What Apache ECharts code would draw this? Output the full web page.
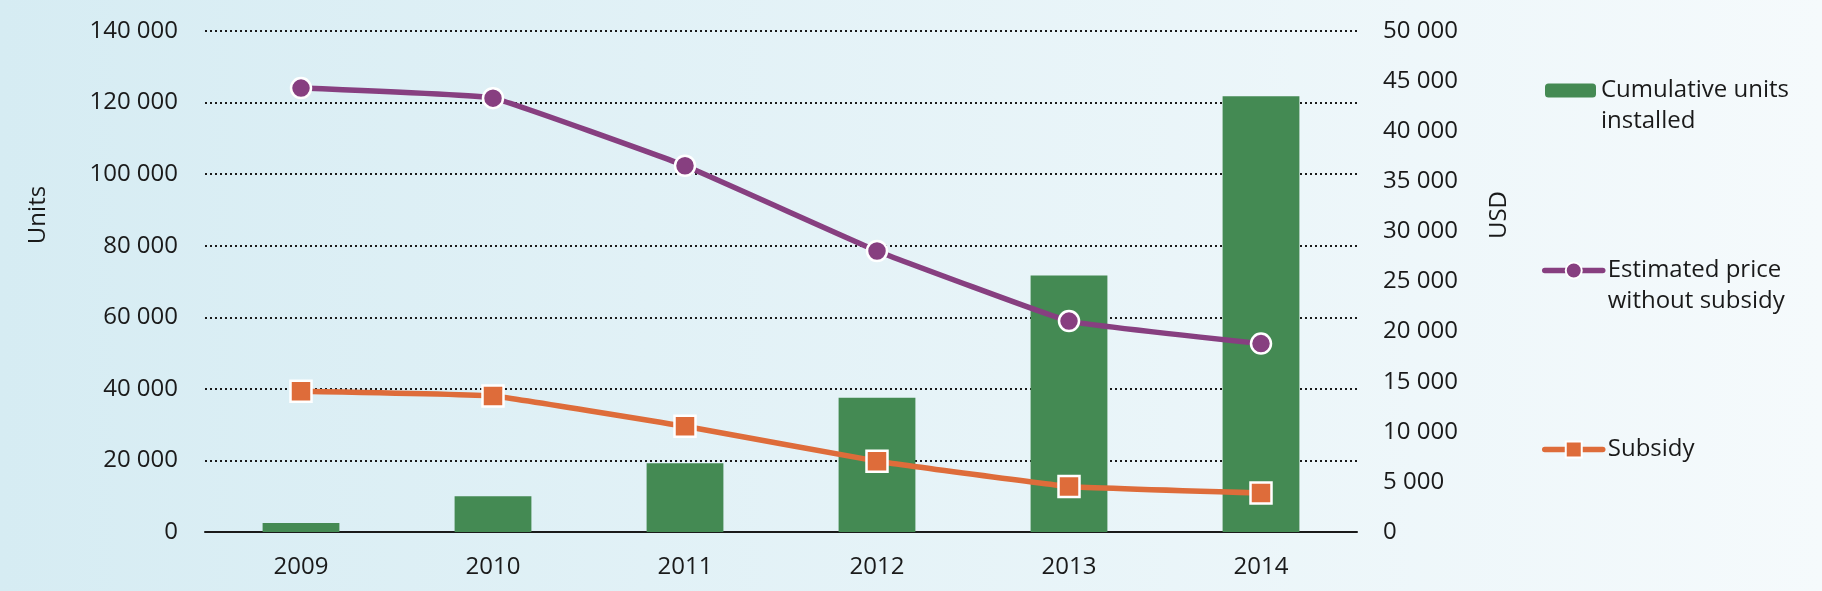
<!DOCTYPE html>
<html>
<head>
<meta charset="utf-8">
<script src="https://cdn.jsdelivr.net/npm/echarts@6/dist/echarts.min.js"></script>
<style>
html,body{margin:0;padding:0;}
#chart{width:1822px;height:591px;}
</style>
</head>
<body>
<div id="chart"></div>
<script>
const years = ['2009', '2010', '2011', '2012', '2013', '2014'];
const unitsInstalled = [2500, 10000, 19200, 37500, 71700, 121800];
const priceNoSubsidy = [44300, 43300, 36550, 28050, 21050, 18800];
const subsidy = [14050, 13580, 10550, 7070, 4550, 3900];
const leftTicks = {min: 0, max: 140000, interval: 20000};
const rightTicks = {min: 0, max: 50000, interval: 5000};
const seriesNames = ['Cumulative units installed', 'Estimated price without subsidy', 'Subsidy'];
const legendLabels = ['\nCumulative units\ninstalled', '\nEstimated price\nwithout subsidy', 'Subsidy'];

const FONT = 'Open Sans';
const fmt = v => String(v).replace(/\B(?=(\d{3})+(?!\d))/g, ' ');
const chart = echarts.init(document.getElementById('chart'), null, {renderer: 'canvas'});

const legendBase = {
  orient: 'vertical', left: 1542, padding: 0,
  textStyle: {fontFamily: FONT, fontSize: 24, color: '#1a1a1a', lineHeight: 31},
  formatter: name => legendLabels[seriesNames.indexOf(name)],
  lineStyle: {width: 5.5, cap: 'round'},
  selectedMode: false
};

chart.setOption({
  animation: false,
  backgroundColor: {
    type: 'linear', x: 0, y: 0, x2: 1, y2: 0,
    colorStops: [{offset: 0, color: '#d6ecf3'}, {offset: 1, color: '#f5fafc'}]
  },
  grid: {left: 205, right: 465, top: 31, bottom: 59},
  legend: [
    Object.assign({}, legendBase, {
      top: 44, left: 1545, data: [seriesNames[0]], itemWidth: 51, itemHeight: 14
    }),
    Object.assign({}, legendBase, {
      top: 224, data: [seriesNames[1]], itemWidth: 58, itemHeight: 20
    }),
    Object.assign({}, legendBase, {
      top: 434, data: [seriesNames[2]], itemWidth: 58, itemHeight: 20
    })
  ],
  xAxis: {
    type: 'category', data: years,
    axisLine: {lineStyle: {color: '#1a1a1a', width: 2}},
    axisTick: {show: false},
    axisLabel: {fontFamily: FONT, fontSize: 24, color: '#1a1a1a', margin: 23}
  },
  yAxis: [
    {
      type: 'value', min: leftTicks.min, max: leftTicks.max, interval: leftTicks.interval,
      axisLine: {show: false}, axisTick: {show: false},
      axisLabel: {fontFamily: FONT, fontSize: 24, color: '#1a1a1a', margin: 27, formatter: fmt},
      splitLine: {lineStyle: {color: '#1a1a1a', width: 2, type: [2, 3]}}
    },
    {
      type: 'value', min: rightTicks.min, max: rightTicks.max, interval: rightTicks.interval,
      position: 'right',
      axisLine: {show: false}, axisTick: {show: false},
      axisLabel: {fontFamily: FONT, fontSize: 24, color: '#1a1a1a', margin: 26, formatter: fmt},
      splitLine: {show: false}
    }
  ],
  graphic: [
    {type: 'text', x: 38, y: 215, rotation: Math.PI / 2,
     style: {text: 'Units', font: '24px "Open Sans"', fill: '#1a1a1a', align: 'center', verticalAlign: 'middle'}},
    {type: 'text', x: 1499, y: 215, rotation: Math.PI / 2,
     style: {text: 'USD', font: '24px "Open Sans"', fill: '#1a1a1a', align: 'center', verticalAlign: 'middle'}}
  ],
  series: [
    {
      name: seriesNames[0], type: 'bar', yAxisIndex: 0, data: unitsInstalled,
      barWidth: '40%', itemStyle: {color: '#448a53'}
    },
    {
      name: seriesNames[1], type: 'line', yAxisIndex: 1, data: priceNoSubsidy,
      smooth: 0.08, symbol: 'circle', symbolSize: 20,
      lineStyle: {color: '#873f80', width: 5.5},
      itemStyle: {color: '#873f80', borderColor: '#ffffff', borderWidth: 2.5}
    },
    {
      name: seriesNames[2], type: 'line', yAxisIndex: 1, data: subsidy,
      smooth: 0.08, symbol: 'rect', symbolSize: 21,
      lineStyle: {color: '#de6c3a', width: 5.5},
      itemStyle: {color: '#de6c3a', borderColor: '#ffffff', borderWidth: 2.5}
    }
  ]
});
</script>
</body>
</html>
